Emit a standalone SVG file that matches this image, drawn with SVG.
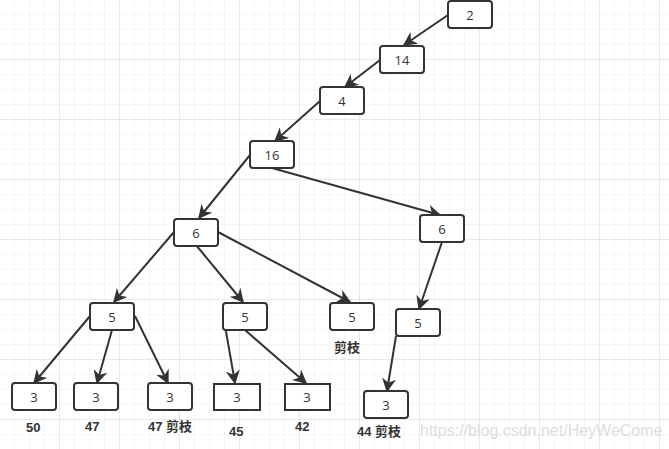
<svg xmlns="http://www.w3.org/2000/svg" width="669" height="449" viewBox="0 0 669 449">
<defs>
<pattern id="g" width="15" height="15" patternUnits="userSpaceOnUse"><path d="M15 0V15H0" fill="none" stroke="#ececec" stroke-width="1"/></pattern>
<pattern id="G" width="60" height="60" patternUnits="userSpaceOnUse"><rect width="60" height="60" fill="url(#g)"/><path d="M60 0V60H0" fill="none" stroke="#dcdcdc" stroke-width="1"/></pattern>
<marker id="a" viewBox="0 0 10 10" refX="9" refY="5" markerWidth="7" markerHeight="7" orient="auto" markerUnits="userSpaceOnUse"><path d="M0 0L10 5L0 10z" fill="#333"/></marker>
<marker id="ar" viewBox="0 0 10 10" refX="9" refY="5" markerWidth="14" markerHeight="14" orient="auto" markerUnits="userSpaceOnUse"><path d="M0 0L10 5L0 10L3 5z" fill="#333"/></marker>
</defs>
<style>
.n rect{fill:#fff;stroke:#333;stroke-width:2}
.n text{font-family:"Open Sans","Liberation Sans",sans-serif;font-size:13px;fill:#333;text-anchor:middle;dominant-baseline:central}
.c line{stroke:#333;stroke-width:2;marker-end:url(#ar)}
.l{font-family:"Liberation Sans","Noto Sans CJK SC",sans-serif;font-size:13px;font-weight:bold;fill:#333}
</style>
<rect width="669" height="449" fill="#fff"/>
<rect width="669" height="449" fill="url(#G)"/>
<g class="c">
<line x1="448" y1="15" x2="404" y2="45"/>
<line x1="380" y1="60" x2="345" y2="87"/>
<line x1="320" y1="101" x2="275" y2="141"/>
<line x1="250" y1="155" x2="199" y2="218"/>
<line x1="272" y1="168" x2="440" y2="215"/>
<line x1="174" y1="232" x2="114" y2="302"/>
<line x1="196" y1="245" x2="243" y2="302"/>
<line x1="218" y1="232" x2="350" y2="302"/>
<line x1="442" y1="242" x2="419" y2="309"/>
<line x1="90" y1="316" x2="34" y2="383"/>
<line x1="112" y1="330" x2="97" y2="383"/>
<line x1="135" y1="316" x2="168" y2="383"/>
<line x1="224" y1="320" x2="235" y2="383"/>
<line x1="245" y1="330" x2="306" y2="383"/>
<line x1="396" y1="336" x2="387" y2="391"/>
</g>
<g id="n2" class="n"><rect x="448" y="1" width="44" height="27" rx="3"/><text x="470" y="15">2</text></g>
<g id="n14" class="n"><rect x="380" y="46" width="44" height="27" rx="3"/><text x="402" y="60">14</text></g>
<g id="n4" class="n"><rect x="320" y="87" width="44" height="27" rx="3"/><text x="342" y="101">4</text></g>
<g id="n16" class="n"><rect x="250" y="141" width="44" height="27" rx="3"/><text x="272" y="155">16</text></g>
<g id="n6a" class="n"><rect x="174" y="219" width="44" height="27" rx="3"/><text x="196" y="233">6</text></g>
<g id="n6b" class="n"><rect x="420" y="215" width="44" height="27" rx="3"/><text x="442" y="229">6</text></g>
<g id="n5a" class="n"><rect x="90" y="303" width="44" height="27" rx="3"/><text x="112" y="317">5</text></g>
<g id="n5b" class="n"><rect x="223" y="303" width="44" height="27" rx="3"/><text x="245" y="317">5</text></g>
<g id="n5c" class="n"><rect x="330" y="303" width="44" height="27" rx="3"/><text x="352" y="317">5</text></g>
<g id="n5d" class="n"><rect x="396" y="309" width="44" height="27" rx="3"/><text x="418" y="323">5</text></g>
<g id="l1" class="n"><rect x="12" y="383" width="44" height="27" rx="3"/><text x="34" y="397">3</text></g>
<g id="l2" class="n"><rect x="74" y="383" width="44" height="27" rx="3"/><text x="96" y="397">3</text></g>
<g id="l3" class="n"><rect x="148" y="383" width="44" height="27" rx="3"/><text x="170" y="397">3</text></g>
<g id="l4" class="n"><rect x="214" y="384" width="46" height="26"/><text x="237" y="397">3</text></g>
<g id="l5" class="n"><rect x="285" y="384" width="45" height="26"/><text x="307" y="397">3</text></g>
<g id="l6" class="n"><rect x="364" y="391" width="44" height="27" rx="3"/><text x="386" y="405">3</text></g>
<g id="labels">
<text class="l" x="26" y="432">50</text>
<text class="l" x="85" y="431">47</text>
<text class="l" x="148" y="431">47 剪枝</text>
<text class="l" x="229" y="436">45</text>
<text class="l" x="295" y="431">42</text>
<text class="l" x="334" y="352">剪枝</text>
<text class="l" x="357" y="436">44 剪枝</text>
<text x="420" y="436" font-family="Liberation Sans,sans-serif" font-size="16" fill="#ddd">https://blog.csdn.net/HeyWeCome</text>
</g>
</svg>
